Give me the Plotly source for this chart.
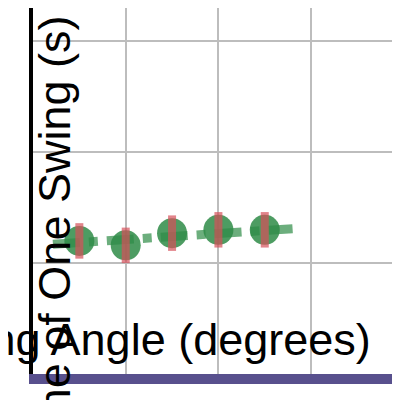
import plotly.graph_objects as go

angles = [10, 20, 30, 40, 50]
times = [0.60, 0.58, 0.635, 0.65, 0.65]
errors = [0.08, 0.08, 0.08, 0.08, 0.08]
trend_x = [4.3, 56]
trend_y = [0.585, 0.655]

fig = go.Figure()
fig.add_trace(go.Scatter(x=trend_x, y=trend_y, mode="lines",
    line=dict(color="rgba(46,139,70,0.7)", width=9, dash="dashdot"), showlegend=False))
fig.add_trace(go.Scatter(x=angles, y=times, mode="markers",
    marker=dict(size=30, color="rgba(46,139,70,0.85)"), showlegend=False))
fig.add_trace(go.Scatter(x=angles, y=times, mode="markers",
    marker=dict(size=1, color="rgba(0,0,0,0)"),
    error_y=dict(type="data", array=errors, color="rgba(214,80,90,0.7)", thickness=8, width=0),
    showlegend=False))

font = dict(family="Liberation Sans, Arial", size=45, color="black")
fig.add_annotation(text="Swing Angle (degrees)", xref="paper", yref="paper",
    x=0.907, y=0.093, xanchor="right", yanchor="middle", showarrow=False, font=font)
fig.add_annotation(text="Time of One Swing (s)", xref="paper", yref="paper",
    x=0.056, y=0.985, xanchor="center", yanchor="top", textangle=-90, showarrow=False, font=font)

fig.update_xaxes(range=[0, 80.9], dtick=20, showticklabels=False, ticks="",
    showgrid=True, gridcolor="#bdbdbd", gridwidth=2, zeroline=False,
    showline=True, linecolor="#58508d", linewidth=10)
fig.update_yaxes(range=[0, 1.65], dtick=0.5, showticklabels=False, ticks="",
    showgrid=True, gridcolor="#bdbdbd", gridwidth=2, zeroline=False,
    showline=True, linecolor="black", linewidth=4)
fig.update_layout(width=400, height=400, margin=dict(l=25, r=0, t=0, b=34, pad=0, autoexpand=False),
    plot_bgcolor="white", paper_bgcolor="white")
fig.write_html("out.html")
